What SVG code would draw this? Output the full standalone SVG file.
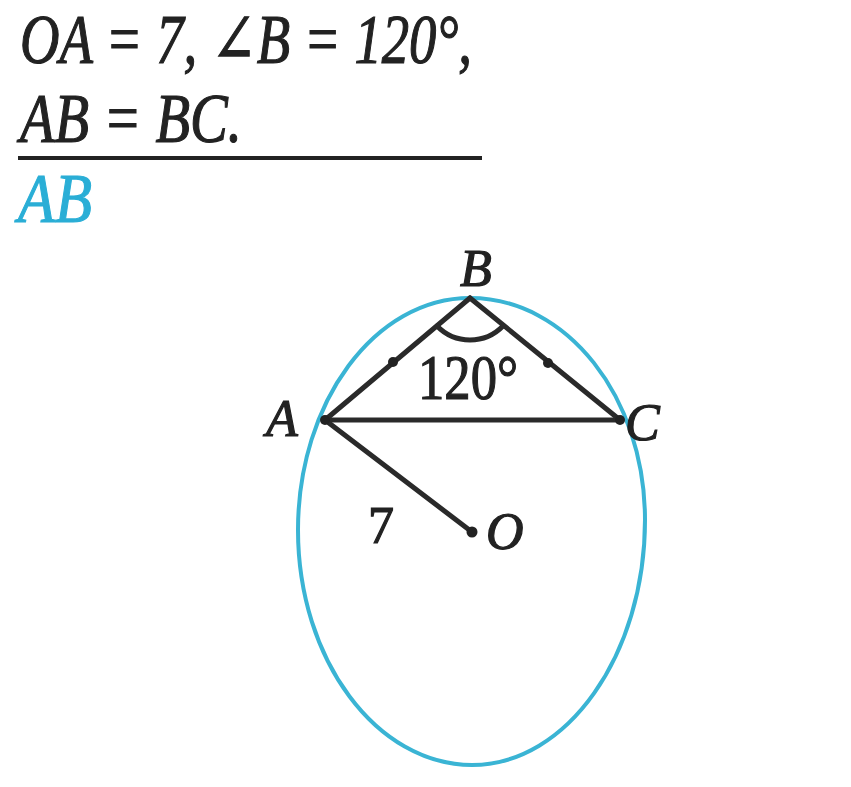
<svg xmlns="http://www.w3.org/2000/svg" width="851" height="787" viewBox="0 0 851 787">
<style>
.t{font-family:"Liberation Serif","DejaVu Serif",serif;font-style:italic;fill:#222;stroke:#222;stroke-width:1.2}
.n{font-family:"Liberation Serif","DejaVu Serif",serif;fill:#222;stroke:#222;stroke-width:1.2}
.seg{stroke:#2a2a2a;stroke-width:5;stroke-linecap:round;fill:none}
</style>
<rect width="851" height="787" fill="#fff"/>
<g id="given">
<text class="t" x="20" y="63" font-size="70" textLength="452" lengthAdjust="spacingAndGlyphs">OA = 7, ∠B = 120°,</text>
<text class="t" x="20" y="142" font-size="70" textLength="222" lengthAdjust="spacingAndGlyphs">AB = BC.</text>
<line x1="18" y1="158" x2="482" y2="158" stroke="#222" stroke-width="4"/>
<text class="t" x="18" y="222" font-size="70" style="fill:#2aaed6;stroke:#2aaed6" textLength="74" lengthAdjust="spacingAndGlyphs">AB</text>
</g>
<g id="circle">
<path d="M470,298 C567,298 645,397 645,520 C645,655 567,765 472,765 C377,765 298,660 298,530 C298,402 375,298 470,298 Z" fill="none" stroke="#3ab4d4" stroke-width="4"/>
</g>
<g id="connectors">
<line class="seg" x1="325" y1="420" x2="470" y2="298"/>
<line class="seg" x1="470" y1="298" x2="620" y2="420"/>
<line class="seg" x1="325" y1="420" x2="620" y2="420" stroke="#444" stroke-width="6"/>
<line class="seg" x1="325" y1="420" x2="472" y2="532"/>
<path class="seg" d="M437,326 A46,46 0 0 0 503,326" stroke-width="4"/>
<circle cx="393" cy="362" r="5" fill="#222"/>
<circle cx="548" cy="363" r="5" fill="#222"/>
<circle cx="325" cy="420" r="5" fill="#222"/>
<circle cx="620" cy="420" r="5" fill="#222"/>
<circle cx="472" cy="532" r="5.5" fill="#222"/>
</g>
<g id="labels">
<text class="t" x="460" y="286" font-size="52">B</text>
<text class="t" x="266" y="436" font-size="52">A</text>
<text class="t" x="625" y="440" font-size="52">C</text>
<text class="t" x="486" y="549" font-size="52">O</text>
<text class="n" x="368" y="543" font-size="52">7</text>
<text class="n" x="418" y="399" font-size="64" textLength="100" lengthAdjust="spacingAndGlyphs">120°</text>
</g>
</svg>
